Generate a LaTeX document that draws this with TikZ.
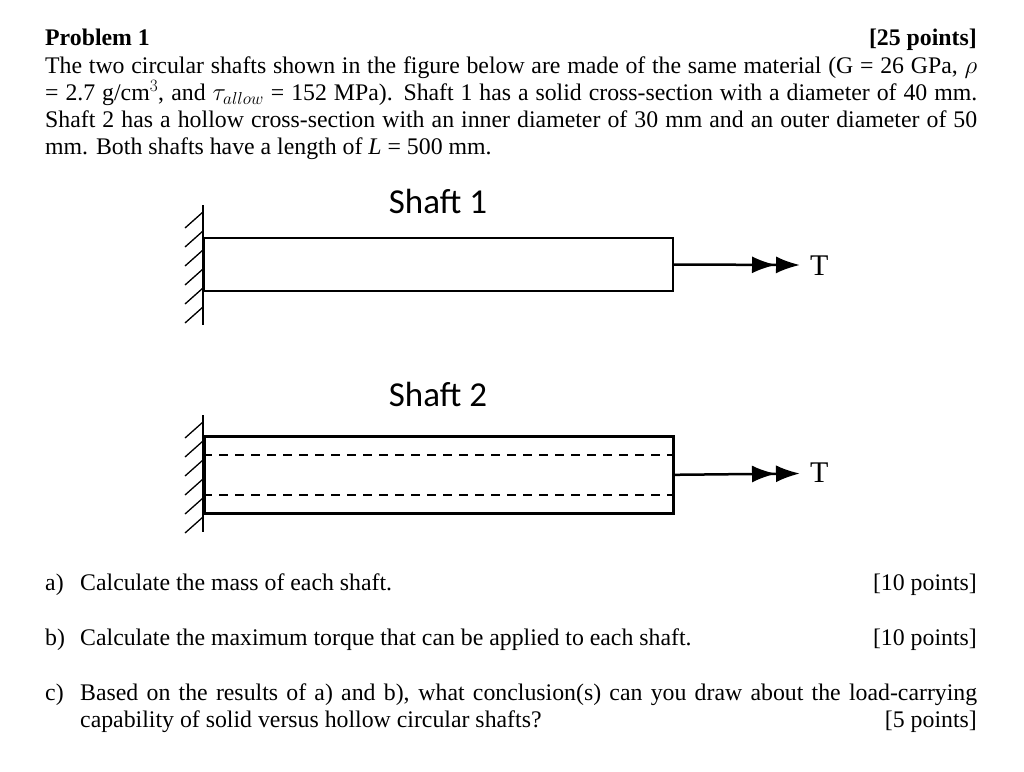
\documentclass[tikz,border=0pt]{standalone}
\usepackage{fontspec}
\setmainfont{Liberation Serif}
\newfontfamily\shaftfont{Carlito}
\usetikzlibrary{arrows.meta}
\begin{document}
\begin{tikzpicture}[x=1pt,y=-1pt,
  body/.style={font=\fontsize{23.8}{27.3}\selectfont},
  tlbl/.style={font=\fontsize{30}{30}\selectfont,anchor=west,inner sep=0},
  shaftlbl/.style={font=\shaftfont\fontsize{35}{36}\selectfont},
  wall/.style={line width=2.2pt},
  bar/.style={line width=2pt},
  torque/.style={line width=2.5pt,-{Latex[length=24pt,width=17pt]Latex[length=24pt,width=17pt]}},
  hatch/.style={line width=1.3pt}]
\useasboundingbox (0,0) rectangle (1024,771);
\node[body,anchor=base west,inner sep=0] (p1) at (45,45) {\textbf{Problem 1}};
\node[body,anchor=base east,inner sep=0] (pts) at (977,45) {\textbf{[25 points]}};
\node[body,anchor=base west,inner sep=0,text width=932pt,align=justify] (txt) at (45,73)
 {\hyphenpenalty=10000 The two circular shafts shown in the figure below are made of the same material (G = 26 GPa, $\rho$\linebreak = 2.7 g/cm$^3$, and $\tau_{allow}$ = 152 MPa). Shaft 1 has a solid cross-section with a diameter of 40 mm.\linebreak Shaft 2 has a hollow cross-section with an inner diameter of 30 mm and an outer diameter of 50\linebreak mm. Both shafts have a length of \textit{L} = 500 mm.};
% Shaft 1
\node[shaftlbl] (s1) at (438,201) {Shaft 1};
\coordinate (w1a) at (203,205); \coordinate (w1b) at (203,325);
\draw[wall] (w1a) -- (w1b);
\foreach \y in {218,237,256,275,294,313} \draw[hatch] (185,\y+10) -- (203,\y-6);
\node[bar,draw,minimum width=469pt,minimum height=53pt,anchor=north west,inner sep=0] (r1) at (203,237) {};
\node[tlbl] (t1) at (810,266) {T};
\coordinate (e1) at (800,265);
\draw[torque] (r1.east) -- (e1);
% Shaft 2
\node[shaftlbl] (s2) at (438,394) {Shaft 2};
\coordinate (w2a) at (203,415); \coordinate (w2b) at (203,532);
\draw[wall] (w2a) -- (w2b);
\foreach \y in {428,447,466,485,504,523} \draw[hatch] (185,\y+10) -- (203,\y-6);
\node[draw,line width=2.6pt,minimum width=469pt,minimum height=77pt,anchor=north west,inner sep=0] (r2) at (203,435) {};
\draw[line width=1.5pt,dash pattern=on 9pt off 7pt] (r2.west |- 0,455) -- (r2.east |- 0,455);
\draw[line width=1.5pt,dash pattern=on 9pt off 7pt] (r2.west |- 0,495) -- (r2.east |- 0,495);
\node[tlbl] (t2) at (810,473) {T};
\coordinate (e2) at (800,473.5);
\draw[torque] (r2.east) -- (e2);
% questions
\node[body,anchor=base west,inner sep=0] (qa) at (45,590) {a)};
\node[body,anchor=base west,inner sep=0] (qat) at (80,590) {Calculate the mass of each shaft.};
\node[body,anchor=base east,inner sep=0] (qap) at (977,590) {[10 points]};
\node[body,anchor=base west,inner sep=0] (qb) at (45,645) {b)};
\node[body,anchor=base west,inner sep=0] (qbt) at (80,645) {Calculate the maximum torque that can be applied to each shaft.};
\node[body,anchor=base east,inner sep=0] (qbp) at (977,645) {[10 points]};
\node[body,anchor=base west,inner sep=0] (qc) at (45,700) {c)};
\node[body,anchor=base west,inner sep=0,text width=897pt,align=justify] (qct) at (80,700) {\hyphenpenalty=10000 Based on the results of a) and b), what conclusion(s) can you draw about the load-carrying\linebreak capability of solid versus hollow circular shafts?};
\node[body,anchor=base east,inner sep=0] (qcp) at (977,727) {[5 points]};
\end{tikzpicture}
\end{document}
